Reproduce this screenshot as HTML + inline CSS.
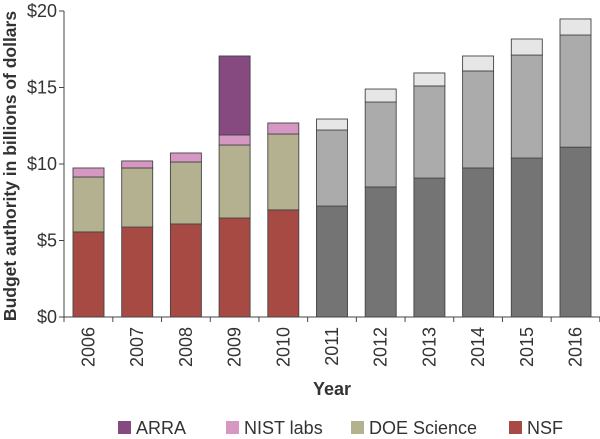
<!DOCTYPE html>
<html><head><meta charset="utf-8">
<style>
body{margin:0;background:#fff;}
svg{display:block;font-family:"Liberation Sans",Arial,sans-serif;}
</style></head>
<body>
<svg id="chart" width="600" height="439" viewBox="0 0 600 439"></svg>
<script>
const years=["2006","2007","2008","2009","2010","2011","2012","2013","2014","2015","2016"];
const nsf=[5.56,5.88,6.08,6.47,7.0,7.25,8.5,9.08,9.74,10.39,11.1];
const doe=[3.59,3.86,4.05,4.77,4.96,4.97,5.55,6.02,6.34,6.73,7.33];
const nist=[0.59,0.46,0.59,0.66,0.72,0.72,0.85,0.85,0.98,1.05,1.05];
const arra=[0,0,0,5.16,0,0,0,0,0,0,0];
const projected=[false,false,false,false,false,true,true,true,true,true,true];
const yTicks=[0,5,10,15,20];
const yTickLabels=["$0","$5","$10","$15","$20"];

const svg=document.getElementById('chart');
const NS='http://www.w3.org/2000/svg';
const x0=64,y0=317,yTop=11,vmax=20,step=48.7,first=88.5,bw=31;
const yS=v=>y0-(v/vmax)*(y0-yTop);
const xS=i=>first+i*step;
function mk(t,a,p){const e=document.createElementNS(NS,t);for(const k in a)e.setAttribute(k,a[k]);(p||svg).appendChild(e);return e;}

const colsActual={nsf:"#a84a44",doe:"#b4b190",nist:"#d698c2",arra:"#864a80"};
const colsProj={nsf:"#747474",doe:"#ababab",nist:"#e6e6e6",arra:"#864a80"};
years.forEach((yr,i)=>{
  const c=projected[i]?colsProj:colsActual;
  let base=0;
  [["nsf",nsf],["doe",doe],["nist",nist],["arra",arra]].forEach(([k,arr])=>{
    const v=arr[i]; if(v<=0)return;
    const r=mk('rect',{x:xS(i)-bw/2,y:yS(base+v),width:bw,height:yS(base)-yS(base+v),fill:c[k],stroke:"#444","stroke-width":0.9});
    
    
    base+=v;
  });
  const t=mk('text',{x:0,y:0,transform:`translate(${xS(i)+6},327) rotate(-90)`,"text-anchor":"end","font-size":18,fill:"#333"});
  t.textContent=yr;
  
  
  mk('line',{x1:xS(i)+step/2,x2:xS(i)+step/2,y1:y0,y2:y0+5,stroke:"#444"});
});
mk('line',{x1:x0,x2:x0,y1:y0,y2:y0+5,stroke:"#444"});
yTicks.forEach((v,i)=>{
  mk('line',{x1:x0-5,x2:x0,y1:yS(v),y2:yS(v),stroke:"#444"});
  const t=mk('text',{x:57,y:yS(v)+6,"text-anchor":"end","font-size":18,fill:"#333"});
  t.textContent=yTickLabels[i];
  
  
});
const ax=mk('line',{x1:x0,x2:x0,y1:yTop,y2:y0,stroke:"#444"});

const bx=mk('line',{x1:x0,x2:600,y1:y0,y2:y0,stroke:"#444"});


const yt=mk('text',{x:0,y:0,transform:"translate(16,166) rotate(-90)","text-anchor":"middle","font-size":17.5,"font-weight":"bold",fill:"#333"});
yt.textContent="Budget authority in billions of dollars";

const xt=mk('text',{x:332,y:395,"text-anchor":"middle","font-size":18,"font-weight":"bold",fill:"#333"});
xt.textContent="Year";


const legend=[["ARRA","#864a80",118],["NIST labs","#d698c2",226],["DOE Science","#b4b190",351],["NSF","#a84a44",509]];
legend.forEach(([l,c,x])=>{
  const g=mk('g',{});
  
  
  mk('rect',{x:x,y:421,width:13,height:13,fill:c},g);
  const t=mk('text',{x:x+18,y:434,"font-size":18,fill:"#333"},g);
  t.textContent=l;
});
</script>
</body></html>
